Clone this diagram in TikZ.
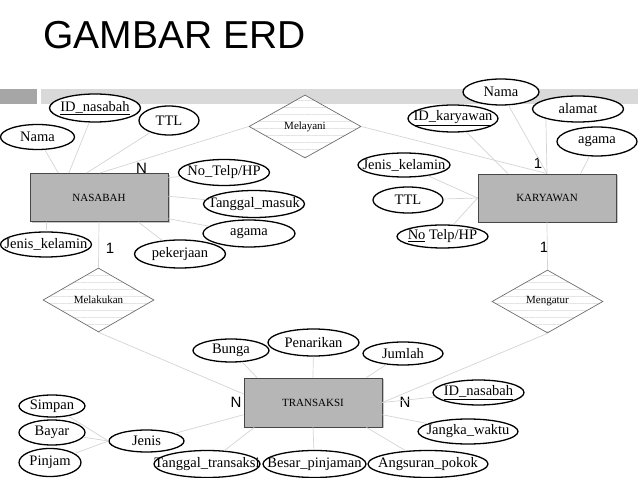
\documentclass[tikz,border=0pt]{standalone}
\usepackage{fontspec}
\setmainfont{Liberation Serif}
\newfontfamily\headfont{Liberation Sans}
\usetikzlibrary{shapes.geometric,shadows,patterns.meta}

\definecolor{entgray}{RGB}{182,182,182}
\definecolor{entline}{RGB}{70,70,70}
\definecolor{relline}{RGB}{110,110,110}
\definecolor{stripe}{RGB}{228,228,228}
\definecolor{linegray}{RGB}{212,212,212}
\definecolor{bardark}{RGB}{166,166,166}
\definecolor{barlight}{RGB}{217,217,217}

% label wider than its ellipse, as in the slide
\newcommand{\attrlabel}[1]{\makebox[0pt]{#1}}

\begin{document}
\begin{tikzpicture}[x=1pt,y=-1pt,
  attr/.style={ellipse,draw=black,line width=1.3pt,fill=white,inner sep=0pt,font=\fontsize{14.5}{16}\selectfont},
  entity/.style={rectangle,draw=entline,line width=0.9pt,fill=entgray,inner sep=0pt,minimum width=138,minimum height=48,font=\fontsize{11}{13}\selectfont,drop shadow={shadow xshift=1.5pt,shadow yshift=-1.5pt,opacity=0.45}},
  rel/.style={diamond,draw=relline,line width=0.7pt,preaction={fill=white},pattern={Lines[distance=7pt,angle=0,line width=0.6pt]},pattern color=stripe,inner sep=0pt,minimum width=111,minimum height=63,font=\fontsize{11}{13}\selectfont},
  card/.style={font=\headfont\fontsize{15}{17}\selectfont,inner sep=0pt},
  link/.style={draw=linegray,line width=0.7pt}]

\useasboundingbox (0,0) rectangle (638,478);

% title and bars
\node [anchor=base west,inner sep=0pt,font=\headfont\fontsize{39}{44}\selectfont] (title) at (43,49) {GAMBAR ERD};
\fill [bardark] (0,89.5) rectangle (37,104);
\fill [barlight] (41,89.5) rectangle (638,104);

% entities
\node [entity] (nasabah) at (99,197.5) {NASABAH};
\node [entity] (karyawan) at (547,198) {KARYAWAN};
\node [entity,minimum height=49] (transaksi) at (313,402.5) {TRANSAKSI};

% relations
\node [rel,minimum width=112] (melayani) at (305,126.5) {Melayani};
\node [rel,minimum height=64] (melakukan) at (98.5,300) {Melakukan};
\node [rel] (mengatur) at (547.5,301.5) {Mengatur};

% NASABAH attributes
\node [attr,minimum width=74,minimum height=25] (nNama) at (37.5,137) {\attrlabel{Nama}};
\node [attr,minimum width=91,minimum height=28] (nId) at (95,108) {\attrlabel{\underline{ID\_nasabah}}};
\node [attr,minimum width=60,minimum height=29] (nTtl) at (169,120.5) {\attrlabel{TTL}};
\node [attr,minimum width=91,minimum height=26] (nTelp) at (224,172.5) {\attrlabel{No\_Telp/HP}};
\node [attr,minimum width=101,minimum height=27] (nTgl) at (254,204) {\attrlabel{Tanggal\_masuk}};
\node [attr,minimum width=92,minimum height=27] (nAgama) at (249,233.5) {\attrlabel{agama}};
\node [attr,minimum width=91,minimum height=28] (nKerja) at (180,254) {\attrlabel{pekerjaan}};
\node [attr,minimum width=91,minimum height=25] (nJk) at (46,244.5) {\attrlabel{Jenis\_kelamin}};

% KARYAWAN attributes
\node [attr,minimum width=76,minimum height=26] (kNama) at (501,92) {\attrlabel{Nama}};
\node [attr,minimum width=91,minimum height=26] (kAlamat) at (578,109) {\attrlabel{alamat}};
\node [attr,minimum width=80,minimum height=29] (kAgama) at (597,141.5) {\attrlabel{agama}};
\node [attr,minimum width=90,minimum height=27] (kId) at (453,118.5) {\attrlabel{\underline{ID\_karyawan}}};
\node [attr,minimum width=92,minimum height=24] (kJk) at (404,165) {\attrlabel{Jenis\_kelamin}};
\node [attr,minimum width=70,minimum height=26] (kTtl) at (408,200) {\attrlabel{TTL}};
\node [attr,minimum width=91,minimum height=23] (kTelp) at (442.5,236.5) {\attrlabel{\underline{No} Telp/HP}};

% TRANSAKSI attributes
\node [attr,minimum width=76,minimum height=23] (tBunga) at (231,350.5) {\attrlabel{Bunga}};
\node [attr,minimum width=91,minimum height=27] (tTarik) at (313.5,342.5) {\attrlabel{Penarikan}};
\node [attr,minimum width=80,minimum height=23] (tJumlah) at (403,353.5) {\attrlabel{Jumlah}};
\node [attr,minimum width=91,minimum height=25] (tId) at (478.5,392.5) {\attrlabel{\underline{ID\_nasabah}}};
\node [attr,minimum width=100,minimum height=25] (tJangka) at (468,431.5) {\attrlabel{Jangka\_waktu}};
\node [attr,minimum width=120,minimum height=27] (tAngsur) at (428,464) {\attrlabel{Angsuran\_pokok}};
\node [attr,minimum width=103,minimum height=27] (tBesar) at (314.5,464) {\attrlabel{Besar\_pinjaman}};
\node [attr,minimum width=106,minimum height=27] (tTgl) at (207,464) {\attrlabel{Tanggal\_transaksi}};
\node [attr,minimum width=75,minimum height=22] (tJenis) at (146.5,441) {\attrlabel{Jenis}};
\node [attr,minimum width=66,minimum height=22] (tSimpan) at (52,406) {\attrlabel{Simpan}};
\node [attr,minimum width=66,minimum height=25] (tBayar) at (52,432.5) {\attrlabel{Bayar}};
\node [attr,minimum width=62,minimum height=28] (tPinjam) at (50,462.5) {\attrlabel{Pinjam}};

% cardinalities
\node [card] (cardNas) at (141.5,168) {N};
\node [card] (cardNasB) at (110,248) {1};
\node [card] (cardKar) at (538,163) {1};
\node [card] (cardKarB) at (544,247) {1};
\node [card] (cardTrL) at (236,402) {N};
\node [card] (cardTrR) at (405,402) {N};

% links NASABAH
\draw [link] (nNama) -- (nasabah.149);
\draw [link] (nId) -- (nasabah.141);
\draw [link] (nTtl) -- (nasabah.117);
\draw [link] (melayani.west) -- (nasabah.88);
\draw [link] (nTelp) -- (nasabah.16);
\draw [link] (nTgl) -- (nasabah.1);
\draw [link] (nAgama) -- (nasabah.-17);
\draw [link] (nKerja) -- (nasabah.-32);
\draw [link] (nJk) -- (nasabah.-155);
\draw [link] (melakukan.north) -- (nasabah.south);

% links KARYAWAN
\draw [link] (kId) -- (karyawan.148);
\draw [link] (kNama) -- (karyawan.north);
\draw [link] (melayani.east) -- (karyawan.north);
\draw [link] (kAlamat.-163) -- (karyawan.north);
\draw [link] (kAgama) -- (karyawan.36);
\draw [link] (kJk) -- (karyawan.west);
\draw [link] (kTtl) -- (karyawan.west);
\draw [link] (kTelp) -- (karyawan.west);
\draw [link] (mengatur.north) -- (karyawan.south);

% links TRANSAKSI
\draw [link] (tBunga) -- (transaksi.156);
\draw [link] (tTarik) -- (transaksi.north);
\draw [link] (tJumlah) -- (transaksi.25);
\draw [link] (tId) -- (transaksi.east);
\draw [link] (mengatur.south) -- (transaksi.east);
\draw [link] (tJangka) -- (transaksi.-10);
\draw [link] (tAngsur) -- (transaksi.-25);
\draw [link] (tBesar) -- (transaksi.south);
\draw [link] (tTgl) -- (transaksi.-157);
\draw [link] (tJenis) -- (transaksi.-170);
\draw [link] (melakukan.south) -- (transaksi.173);
\draw [link] (tSimpan) -- (tJenis.west);
\draw [link] (tBayar) -- (tJenis.west);
\draw [link] (tPinjam) -- (tJenis.west);

\end{tikzpicture}
\end{document}
